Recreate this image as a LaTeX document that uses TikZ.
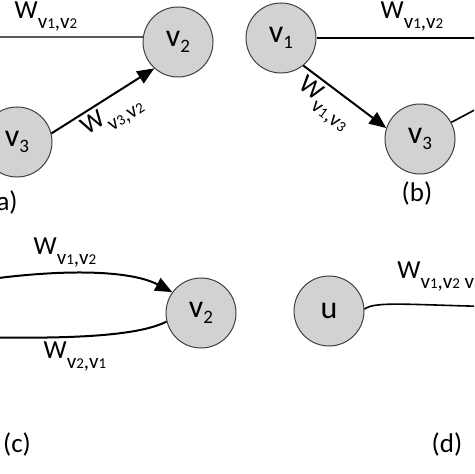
\documentclass[tikz,border=0pt]{standalone}
\usepackage{fontspec}
\setmainfont{Carlito}
\usetikzlibrary{arrows.meta}

\newcommand{\vnode}[1]{v\raisebox{-2.8pt}{\fontsize{9.5}{9.5}\selectfont #1}}
\newcommand{\vs}[1]{v{\fontsize{7.5}{7.5}\selectfont #1}}
\newcommand{\wsub}[1]{W\raisebox{-5pt}{\fontsize{10.5}{10.5}\selectfont #1}}

\begin{document}
\begin{tikzpicture}[
  x=0.5pt, y=-0.5pt,
  vertex/.style={circle, draw=black!75, line width=0.5pt, fill=gray!35, minimum size=35pt, inner sep=0pt, font=\fontsize{16}{16}\selectfont},
  wlabel/.style={inner sep=0pt, font=\fontsize{13}{13}\selectfont},
  panel/.style={inner sep=0pt, font=\fontsize{13.5}{13.5}\selectfont},
  arc/.style={draw, line width=1pt, -{Triangle[length=8.5pt,width=7pt]}},
  link/.style={draw, line width=0.8pt}
]
\path[fill=white, use as bounding box] (0,0) rectangle (474,474);
\clip (0,0) rectangle (474,474);

% (a)
\node[vertex] (v2a) at (178,42) {\vnode2};
\node[vertex] (v3a) at (17,142) {\vnode3};
\coordinate (v1a) at (-80,37);
\draw[link, line width=0.6pt] (v1a) -- (v2a.172);
\node[wlabel] (wa12) at (46,17) {\wsub{\vs1,\vs2}};
\draw[arc] (v3a.14) -- node[wlabel, sloped, below=1.5pt, pos=0.5] (wa32) {\wsub{\vs3,\vs2}} (v2a.228);
\node[panel] (pa) at (3,203) {(a)};

% (b)
\node[vertex] (v1b) at (281,38) {\vnode1};
\node[vertex] (v3b) at (420,139) {\vnode3};
\coordinate (v2b) at (610,38);
\draw[link] (v1b) -- (v2b);
\draw[link] (v3b) -- (v2b);
\node[wlabel] (wb12) at (412,17) {\wsub{\vs1,\vs2}};
\draw[arc] (v1b.-51) -- node[wlabel, sloped, below=1.5pt, pos=0.38] (wb13) {\wsub{\vs1,\vs3}} (v3b.162);
\node[panel] (pb) at (417,194) {(b)};

% (c)
\node[vertex] (v2c) at (201,313) {\vnode2};
\coordinate (v1ct) at (-30,282);
\coordinate (v1cb) at (-30,337);
\draw[arc] (v1ct) .. controls (60,268) and (130,270) .. (v2c.144);
\draw[arc] (v2c.194) .. controls (140,335) and (80,339) .. (v1cb);
\node[wlabel] (wc12) at (65,253) {\wsub{\vs1,\vs2}};
\node[wlabel] (wc21) at (75,357) {\wsub{\vs2,\vs1}};
\node[panel] (pc) at (17,444) {(c)};

% (d)
\node[vertex] (u) at (329,311) {u};
\coordinate (vd) at (520,307);
\draw[link] (u.3) .. controls (375,300) and (420,306) .. (vd);
\node[wlabel, anchor=west] (wd) at (397,277) {\wsub{\vs1,\vs2 \vs3}};
\node[panel] (pd) at (447,444) {(d)};
\end{tikzpicture}
\end{document}
